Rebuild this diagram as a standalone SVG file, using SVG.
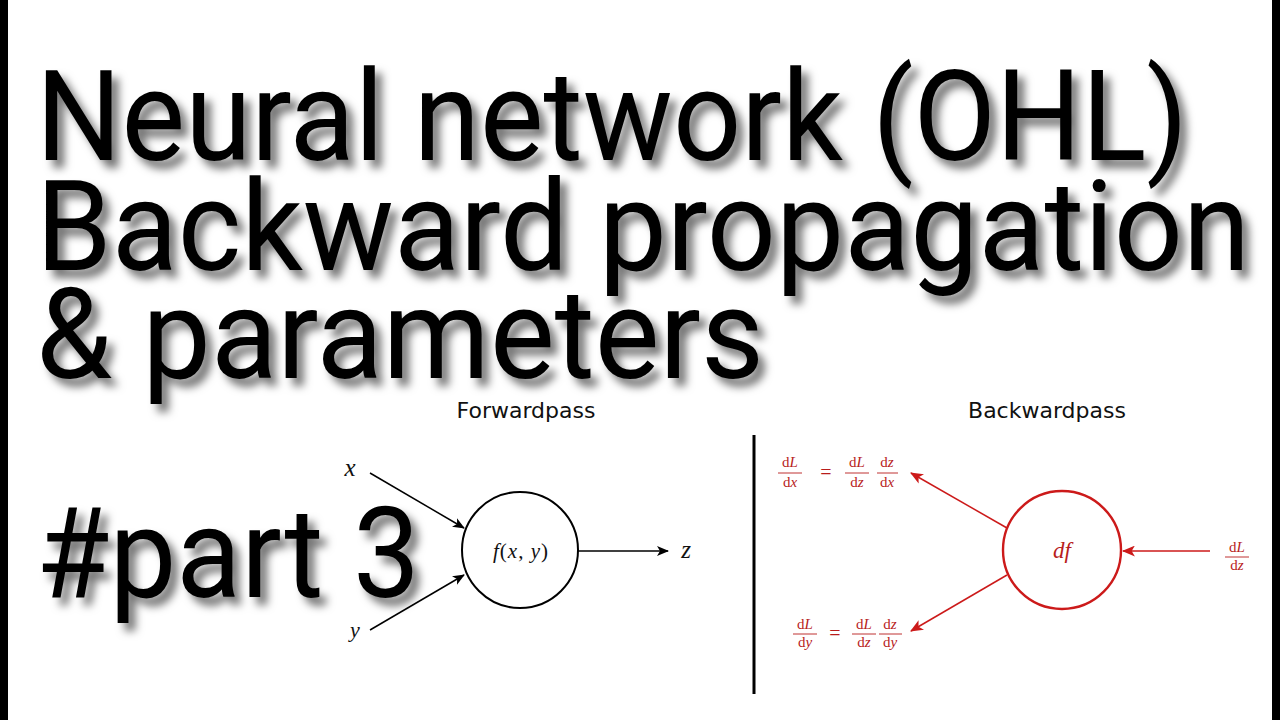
<svg xmlns="http://www.w3.org/2000/svg" width="1280" height="720" viewBox="0 0 1280 720">
<style>
.title{font-family:Roboto,"Liberation Sans",sans-serif;font-size:127px;fill:#000}
.lbl{font-family:"DejaVu Sans",sans-serif;font-size:22px;fill:#111}
.m{font-family:"Liberation Serif","DejaVu Serif",serif;font-style:italic;fill:#111}
.r{font-family:"Liberation Serif","DejaVu Serif",serif;fill:#b81c1c}
.it{font-style:italic}
.blk{fill:none;stroke:#000;stroke-width:1.5}
.red{fill:none;stroke:#cc1a1a;stroke-width:1.5}
.bar{stroke:#b81c1c;stroke-width:0.9}
</style>
<defs>
<filter id="sh" x="-5%" y="-20%" width="115%" height="150%">
<feDropShadow dx="7" dy="8" stdDeviation="4.5" flood-color="#000" flood-opacity="0.55"/>
</filter>
<marker id="ab" viewBox="0 0 12 10" refX="11" refY="5" markerWidth="12" markerHeight="10" markerUnits="userSpaceOnUse" orient="auto">
<path d="M0,0 L12,5 L0,10 L3,5 Z" fill="#000"/>
</marker>
<marker id="ar" viewBox="0 0 12 10" refX="11" refY="5" markerWidth="13" markerHeight="11" markerUnits="userSpaceOnUse" orient="auto">
<path d="M0,0 L12,5 L0,10 L3,5 Z" fill="#cc1a1a"/>
</marker>
</defs>
<rect width="1280" height="720" fill="#fff"/>
<rect x="0" y="0" width="8" height="720" fill="#000"/>
<rect x="1272" y="0" width="8" height="720" fill="#000"/>

<g id="title" filter="url(#sh)">
<text class="title" x="36" y="160" textLength="1152" lengthAdjust="spacingAndGlyphs">Neural network (OHL)</text>
<text class="title" x="36" y="270" textLength="1214" lengthAdjust="spacingAndGlyphs">Backward propagation</text>
<text class="title" x="36" y="378" textLength="728" lengthAdjust="spacingAndGlyphs">&amp; parameters</text>
<text class="title" x="36" y="597" textLength="384" lengthAdjust="spacingAndGlyphs">#part 3</text>
</g>

<text class="lbl" x="526" y="418" text-anchor="middle">Forwardpass</text>
<text class="lbl" x="1047" y="418" text-anchor="middle">Backwardpass</text>

<line x1="754" y1="435" x2="754" y2="694" stroke="#000" stroke-width="3"/>

<g id="connectors">
<line class="blk" x1="370" y1="473" x2="464" y2="528" marker-end="url(#ab)"/>
<line class="blk" x1="370" y1="630" x2="464" y2="575" marker-end="url(#ab)"/>
<line class="blk" x1="578" y1="551" x2="668" y2="551" marker-end="url(#ab)"/>
<line class="red" x1="1210" y1="551" x2="1123" y2="551" marker-end="url(#ar)"/>
<line class="red" x1="1007" y1="528" x2="911" y2="473" marker-end="url(#ar)"/>
<line class="red" x1="1007" y1="575" x2="911" y2="631" marker-end="url(#ar)"/>
</g>

<g id="node-f">
<circle cx="520" cy="550" r="58" fill="#fff" stroke="#000" stroke-width="2"/>
<text class="m" x="521" y="558" font-size="21" text-anchor="middle" letter-spacing="1">f<tspan font-style="normal">(</tspan>x<tspan font-style="normal">,</tspan> y<tspan font-style="normal">)</tspan></text>
</g>
<g id="input-x"><text class="m" x="350" y="476" font-size="25" text-anchor="middle">x</text></g>
<g id="input-y"><text class="m" x="355" y="637" font-size="22" text-anchor="middle">y</text></g>
<g id="output-z"><text class="m" x="686" y="558" font-size="25" text-anchor="middle">z</text></g>

<g id="node-df">
<circle cx="1062" cy="550" r="59" fill="#fff" stroke="#cc1a1a" stroke-width="2.4"/>
<text class="r it" x="1062" y="558" font-size="23" text-anchor="middle">df</text>
</g>

<g id="grad-in" font-size="15">
<text class="r" x="1237" y="552" text-anchor="middle">d<tspan class="it">L</tspan></text>
<line class="bar" x1="1225" y1="557" x2="1249" y2="557"/>
<text class="r" x="1237" y="570" text-anchor="middle">d<tspan class="it">z</tspan></text>
</g>

<g id="grad-x" font-size="15">
<text class="r" x="790" y="467" text-anchor="middle">d<tspan class="it">L</tspan></text>
<line class="bar" x1="778" y1="473" x2="802" y2="473"/>
<text class="r" x="790" y="487" text-anchor="middle">d<tspan class="it">x</tspan></text>
<text class="r" x="826" y="479" font-size="20" text-anchor="middle">=</text>
<text class="r" x="857" y="467" text-anchor="middle">d<tspan class="it">L</tspan></text>
<line class="bar" x1="845" y1="473" x2="869" y2="473"/>
<text class="r" x="857" y="487" text-anchor="middle">d<tspan class="it">z</tspan></text>
<text class="r" x="887" y="467" text-anchor="middle">d<tspan class="it">z</tspan></text>
<line class="bar" x1="877" y1="473" x2="898" y2="473"/>
<text class="r" x="887" y="487" text-anchor="middle">d<tspan class="it">x</tspan></text>
</g>

<g id="grad-y" font-size="15">
<text class="r" x="805" y="629" text-anchor="middle">d<tspan class="it">L</tspan></text>
<line class="bar" x1="793" y1="634" x2="817" y2="634"/>
<text class="r" x="805" y="647" text-anchor="middle">d<tspan class="it">y</tspan></text>
<text class="r" x="835" y="640" font-size="20" text-anchor="middle">=</text>
<text class="r" x="864" y="629" text-anchor="middle">d<tspan class="it">L</tspan></text>
<line class="bar" x1="852" y1="634" x2="876" y2="634"/>
<text class="r" x="864" y="647" text-anchor="middle">d<tspan class="it">z</tspan></text>
<text class="r" x="890" y="629" text-anchor="middle">d<tspan class="it">z</tspan></text>
<line class="bar" x1="879" y1="634" x2="902" y2="634"/>
<text class="r" x="890" y="647" text-anchor="middle">d<tspan class="it">y</tspan></text>
</g>
</svg>
